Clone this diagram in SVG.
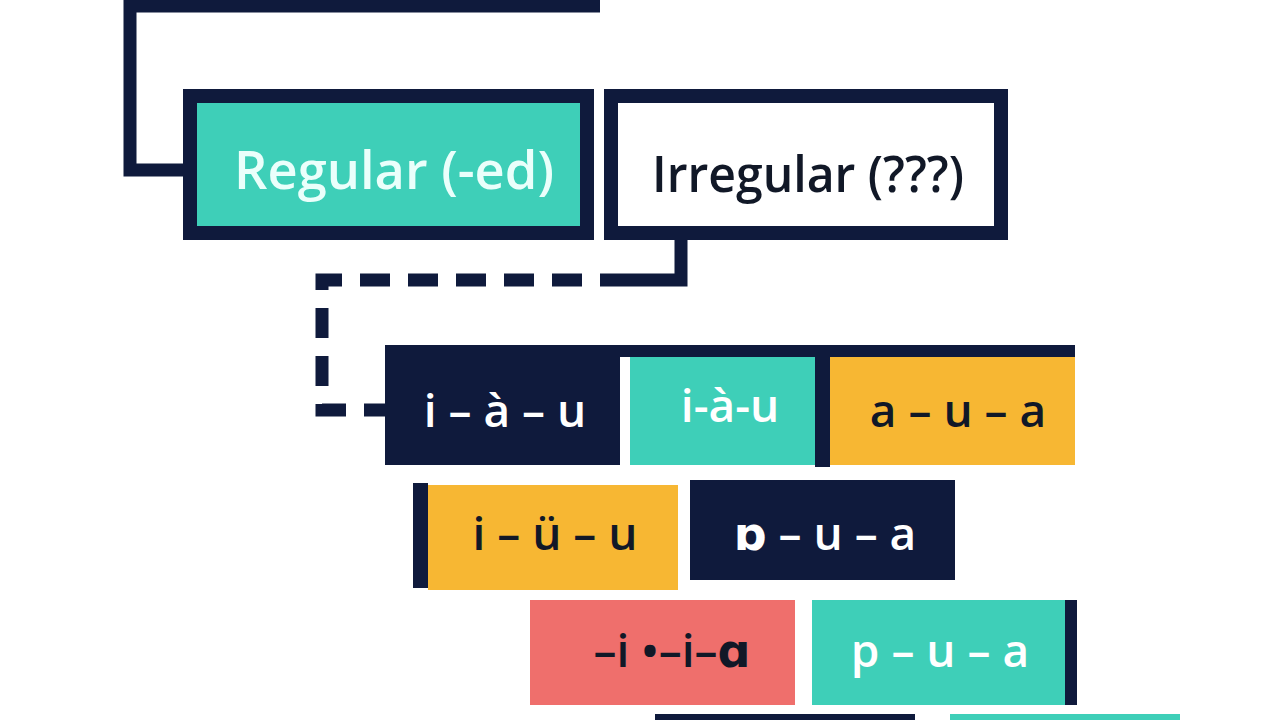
<svg xmlns="http://www.w3.org/2000/svg" width="1280" height="720" viewBox="0 0 1280 720">
<style>
.n{fill:#0f1a3c}.t{fill:#3ecfb8}.y{fill:#f7b733}.r{fill:#ef6f6c}
text{font-family:"Open Sans","DejaVu Sans",sans-serif;font-weight:600;text-anchor:middle}
.lab{font-size:46px}.w{fill:#ffffff}.k{fill:#111827}
.c{fill:none;stroke:#0f1a3c;stroke-width:13}
</style>
<rect width="1280" height="720" fill="#ffffff"/>
<g id="connectors">
<path class="c" d="M600,6 H130 V170 H185"/>
<path class="c" d="M681,240 V280 H630"/>
<path class="c" d="M630,280 H322 V410 H385" stroke-dasharray="30,18"/>
</g>
<g id="regular">
<rect class="n" x="183" y="89" width="411" height="151"/>
<rect class="t" x="197" y="103" width="383" height="123"/>
<text x="394" y="189" font-size="52" fill="#eafffb" font-weight="500" textLength="320" lengthAdjust="spacingAndGlyphs">Regular (-ed)</text>
</g>
<g id="irregular">
<rect class="n" x="604" y="89" width="404" height="151"/>
<rect x="618" y="103" width="376" height="123" fill="#ffffff"/>
<text x="808" y="192" font-size="50" class="k" font-weight="500" textLength="312" lengthAdjust="spacingAndGlyphs">Irregular (???)</text>
</g>
<g id="row1">
<rect class="n" x="385" y="345" width="690" height="12"/>
<g id="c1"><rect class="n" x="385" y="357" width="235" height="108"/><text class="lab w" x="505" y="427">i – à – u</text></g>
<g id="c2"><rect class="t" x="630" y="357" width="185" height="108"/><text class="lab w" x="730" y="422" font-weight="500">i-à-u</text></g>
<rect class="n" x="815" y="357" width="15" height="110"/>
<g id="c3"><rect class="y" x="830" y="357" width="245" height="108"/><text class="lab k" x="958" y="427">a – u – a</text></g>
</g>
<g id="row2">
<rect class="n" x="413" y="483" width="15" height="105"/>
<g id="c4"><rect class="y" x="428" y="485" width="250" height="105"/><text class="lab k" x="555" y="550">i – ü – u</text></g>
<g id="c5"><rect class="n" x="690" y="480" width="265" height="100"/><text class="lab w" x="825" y="550">ɒ – u – a</text></g>
</g>
<g id="row3">
<g id="c6"><rect class="r" x="530" y="600" width="265" height="105"/><text class="lab k" x="672" y="667">–i •–i–ɑ</text></g>
<g id="c7"><rect class="t" x="812" y="600" width="253" height="105"/><rect class="n" x="1065" y="600" width="12" height="105"/><text class="lab w" x="940" y="667">p – u – a</text></g>
</g>
<g id="row4">
<rect class="n" x="655" y="714" width="260" height="6"/>
<rect class="t" x="950" y="714" width="230" height="6"/>
</g>
</svg>
